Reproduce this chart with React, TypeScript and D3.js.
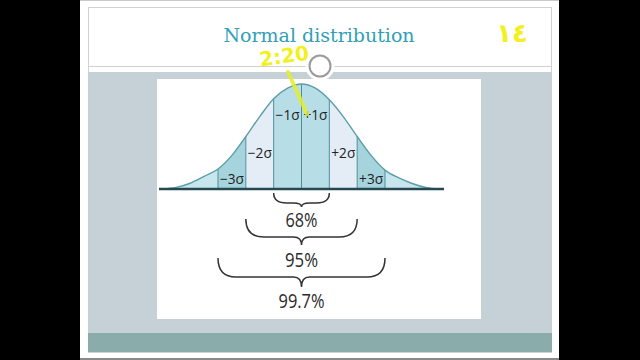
import React from "react";
import * as d3 from "d3";

// ---- data ----
const curveZ = [-5, -4.5, -4, -3.5, -3, -2.5, -2, -1.5, -1, -0.5, 0, 0.5, 1, 1.5, 2, 2.5, 3, 3.5, 4, 4.5, 4.9];
const curveH = [0, 0.015, 0.055, 0.12, 0.19, 0.32, 0.5, 0.69, 0.86, 0.96, 1.0, 0.96, 0.85, 0.69, 0.5, 0.32, 0.18, 0.105, 0.05, 0.012, 0];
const boundaries = [-3, -2, -1, 0, 1, 2, 3];
const bandStarts = [-6, -3, -2, -1, 0, 1, 2, 3];
const bandEnds = [-3, -2, -1, 0, 1, 2, 3, 6];
const bandColors = ["#c8e6ed", "#a6d4dd", "#e4edf6", "#b7dee7", "#b7dee7", "#e4edf6", "#a6d4dd", "#c8e6ed"];
const sigmaLabels = ["−3σ", "−2σ", "−1σ", "+1σ", "+2σ", "+3σ"];
const sigmaBandLo = [-3, -2, -1, 0, 1, 2];
const sigmaLabelLevel = [0.05, 0.3, 0.66, 0.66, 0.3, 0.05];
const braceSpan = [1, 2, 3];
const braceLabels = ["68%", "95%", "99.7%"];

export default function App() {
  const x = d3.scaleLinear().domain([-3, 3]).range([218, 385]);
  const y = d3.scaleLinear().domain([0, 1]).range([189, 84]);
  const pts: [number, number][] = curveZ.map((z, i) => [z, curveH[i]]);

  const area = d3
    .area<[number, number]>()
    .x((d) => x(d[0]))
    .y0(y(0))
    .y1((d) => y(d[1]))
    .curve(d3.curveMonotoneX);
  const line = d3
    .line<[number, number]>()
    .x((d) => x(d[0]))
    .y((d) => y(d[1]))
    .curve(d3.curveMonotoneX);
  const areaPath = area(pts) || "";
  const linePath = line(pts) || "";

  // brace geometry (vertical layout of the three braces)
  const braceTop = [193, 219, 258];
  const braceMid = [203, 237, 277];
  const braceTip = [207, 245, 287];
  const braceText = [227, 267, 308];
  const textLen = [32, 33, 46];

  const bracePath = (k: number, i: number) => {
    const x1 = x(-k);
    const x2 = x(k);
    const xc = x(0);
    const t = braceTop[i];
    const h = braceMid[i];
    const tip = braceTip[i];
    const r = Math.min(18, (h - t) * 1.3);
    const r2 = 8;
    return `M${x1},${t} Q${x1},${h} ${x1 + r},${h} L${xc - r2},${h} Q${xc},${h} ${xc},${tip} Q${xc},${h} ${xc + r2},${h} L${x2 - r},${h} Q${x2},${h} ${x2},${t}`;
  };

  return (
    <svg
      width={640}
      height={360}
      style={{ position: "fixed", left: 0, top: 0, background: "#000" }}
    >
      <defs>
        {bandStarts.map((s, i) => (
          <clipPath id={`band${i}`} key={i}>
            <rect x={x(s)} y={0} width={x(bandEnds[i]) - x(s)} height={360} />
          </clipPath>
        ))}
        <clipPath id="curveClip">
          <path d={areaPath} />
        </clipPath>
      </defs>

      {/* slide frame */}
      <rect x={80} y={0} width={479} height={360} fill="#ffffff" />
      <line x1={80} x2={559} y1={0.5} y2={0.5} stroke="#c8c8c8" />
      <line x1={80} x2={559} y1={359} y2={359} stroke="#8a8a8a" strokeWidth={2} />
      <rect x={88.5} y={7.5} width={463} height={345} fill="none" stroke="#d2d2d2" />
      <line x1={88} x2={552} y1={66.5} y2={66.5} stroke="#d0d0d0" />
      <rect x={88} y={72} width={464} height={261} fill="#c6d1d7" />
      <rect x={88} y={333} width={464} height={19} fill="#8aadac" />

      {/* circle ornament */}
      <circle cx={320} cy={66} r={12} fill="#ffffff" stroke="#ffffff" strokeWidth={5} />
      <circle cx={320} cy={66} r={10.5} fill="#ffffff" stroke="#9a9a9a" strokeWidth={2} />

      {/* title */}
      <text
        x={319}
        y={42}
        textAnchor="middle"
        fontFamily="'DejaVu Serif', serif"
        fontSize={19}
        fill="#31a0b5"
      >
        Normal distribution
      </text>

      {/* chart panel */}
      <rect x={157} y={79} width={324} height={240} fill="#ffffff" />

      {bandStarts.map((s, i) => (
        <g clipPath={`url(#band${i})`} key={i}>
          <path d={areaPath} fill={bandColors[i]} />
        </g>
      ))}
      <g clipPath="url(#curveClip)">
        {boundaries.map((b) => (
          <line key={b} x1={x(b)} x2={x(b)} y1={y(0)} y2={y(1.05)} stroke="#4f8f98" strokeWidth={1} />
        ))}
      </g>
      <path d={linePath} fill="none" stroke="#5a9ea7" strokeWidth={1.4} />
      <line x1={159} x2={444} y1={y(0)} y2={y(0)} stroke="#264852" strokeWidth={2.5} />

      {sigmaLabels.map((s, i) => (
        <text
          key={s}
          x={(x(sigmaBandLo[i]) + x(sigmaBandLo[i] + 1)) / 2}
          y={y(sigmaLabelLevel[i])}
          textAnchor="middle"
          fontFamily="'Open Sans', sans-serif"
          fontSize={14}
          fill="#222"
          textLength={24}
          lengthAdjust="spacingAndGlyphs"
        >
          {s}
        </text>
      ))}

      {braceSpan.map((k, i) => (
        <g key={k}>
          <path d={bracePath(k, i)} fill="none" stroke="#333" strokeWidth={1.5} />
          <text
            x={x(0)}
            y={braceText[i]}
            textAnchor="middle"
            fontFamily="'Open Sans', sans-serif"
            fontSize={20}
            fill="#2a2a2a"
            textLength={textLen[i]}
            lengthAdjust="spacingAndGlyphs"
          >
            {braceLabels[i]}
          </text>
        </g>
      ))}

      {/* handwritten annotations */}
      <text
        x={284}
        y={63}
        textAnchor="middle"
        fontFamily="'DejaVu Sans', sans-serif"
        fontWeight="bold"
        fontSize={20}
        fill="#f2f01e"
        transform="rotate(-8 284 55)"
      >
        2:20
      </text>
      <path d="M288,72 L307,114" stroke="#e6ee2a" strokeWidth={4} strokeLinecap="round" opacity={0.85} />
      <text
        x={512}
        y={42}
        textAnchor="middle"
        fontFamily="'DejaVu Sans', sans-serif"
        fontWeight="bold"
        fontSize={26}
        fill="#f2f01e"
      >
        ١٤
      </text>
    </svg>
  );
}
